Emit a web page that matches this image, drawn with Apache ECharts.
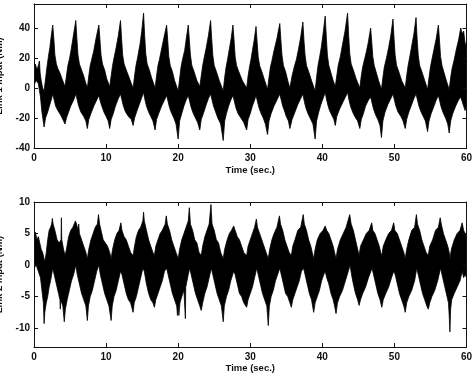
<!DOCTYPE html>
<html><head><meta charset="utf-8">
<script src="https://cdn.jsdelivr.net/npm/echarts@6/dist/echarts.min.js"></script>
<style>html,body{margin:0;padding:0;background:#fff}#c{width:474px;height:375px}</style>
</head><body><div id="c"></div>
<script>
// tick labels
const xTicks = [0, 10, 20, 30, 40, 50, 60];
const y1Ticks = [-40, -20, 0, 20, 40];
const y2Ticks = [-10, -5, 0, 5, 10];

// Link 1 input (Nm): upper and lower envelope of the dense signal, [time, value]
const link1Upper = [
[0,14],[0.2,16],[0.4,12],[0.6,15],[0.75,18],[0.85,10],[1.0,5],[1.2,0],[1.4,-2],
[1.6,6],[1.8,14],[2.0,21],[2.2,27],[2.4,35],[2.6,42],
[2.75,33],[2.9,22],[3.1,16],[3.3,13],[3.6,10],[3.9,6],[4.3,1],
[4.5,8],[4.7,15],[4.9,19],[5.1,24],[5.4,33],[5.8,45],
[5.95,33],[6.1,22],[6.3,16],[6.6,12],[6.9,8],[7.2,3],[7.4,0],
[7.6,8],[7.8,15],[8.0,19],[8.3,25],[8.6,33],[9.0,42],
[9.15,32],[9.3,22],[9.5,16],[9.8,12],[10.1,6],[10.5,1],
[10.7,8],[10.9,15],[11.1,20],[11.4,27],[11.7,35],[12.0,45],
[12.15,33],[12.3,22],[12.5,16],[12.8,12],[13.2,7],[13.5,3],[13.75,0],
[13.95,8],[14.15,15],[14.4,21],[14.7,29],[14.95,38],[15.2,50],
[15.35,35],[15.5,23],[15.7,16],[16.0,12],[16.3,7],[16.8,0],
[17.0,8],[17.2,15],[17.4,19],[17.7,26],[18.0,33],[18.4,42],
[18.55,32],[18.7,21],[18.9,15],[19.2,11],[19.5,5],[20.0,-2],
[20.2,6],[20.4,14],[20.6,19],[20.9,25],[21.1,32],[21.4,42],
[21.55,32],[21.7,22],[21.9,15],[22.2,11],[22.6,5],[23.0,1],
[23.2,8],[23.4,15],[23.6,20],[23.9,27],[24.2,35],[24.5,45],
[24.65,33],[24.8,22],[25.0,15],[25.3,11],[25.7,5],[26.25,-2],
[26.45,7],[26.65,14],[26.85,19],[27.1,26],[27.35,33],[27.6,42],
[27.75,32],[27.9,21],[28.1,15],[28.4,11],[28.9,5],[29.5,0],
[29.7,8],[29.9,14],[30.1,19],[30.3,25],[30.55,32],[30.8,41],
[30.95,31],[31.1,21],[31.3,15],[31.6,11],[32.0,5],[32.4,-1],
[32.6,7],[32.8,14],[33.0,18],[33.3,25],[33.7,33],[34.1,43],
[34.25,32],[34.4,22],[34.6,15],[34.9,11],[35.2,5],[35.5,0],
[35.8,8],[36.1,14],[36.4,19],[36.7,26],[37.0,34],[37.3,44],
[37.45,32],[37.6,22],[37.8,15],[38.1,11],[38.5,5],[39.0,-2],
[39.2,7],[39.4,15],[39.6,20],[39.85,27],[40.1,36],[40.4,48],
[40.55,34],[40.7,22],[40.9,15],[41.2,10],[41.5,5],[41.8,1],
[42.0,8],[42.2,15],[42.5,21],[42.8,29],[43.15,38],[43.5,50],
[43.65,35],[43.8,23],[44.0,16],[44.3,12],[44.7,6],[45.2,0],
[45.4,8],[45.6,14],[45.8,18],[46.1,24],[46.4,31],[46.7,40],
[46.85,31],[47.0,21],[47.2,15],[47.5,10],[47.8,5],[48.2,-1],
[48.4,7],[48.6,14],[48.9,20],[49.2,27],[49.5,35],[49.8,46],
[49.95,33],[50.1,22],[50.3,15],[50.6,11],[51.0,5],[51.5,0],
[51.7,8],[51.9,15],[52.1,20],[52.4,28],[52.7,36],[53.0,47],
[53.15,33],[53.3,22],[53.5,15],[53.8,11],[54.2,5],[54.6,-1],
[54.8,7],[55.0,14],[55.2,19],[55.5,26],[55.8,33],[56.1,42],
[56.25,32],[56.4,21],[56.6,15],[56.9,10],[57.2,5],[57.6,-1],
[57.8,7],[58.0,13],[58.3,19],[58.6,26],[58.9,32],[59.2,40],
[59.4,36],[59.6,38],[59.8,30],[60,28]
];
const link1Lower = [
[0,2],[0.3,5],[0.6,3],[0.9,-6],[1.1,-16],[1.4,-26],
[1.6,-20],[1.9,-16],[2.2,-11],[2.45,-7],[2.6,-4],
[2.8,-8],[3.0,-12],[3.3,-15],[3.7,-18],[4.0,-21],[4.3,-24],
[4.5,-20],[4.8,-16],[5.1,-12],[5.5,-8],[5.8,-4],
[6.0,-8],[6.2,-12],[6.5,-16],[6.9,-19],[7.2,-22],[7.4,-27],
[7.6,-21],[7.9,-17],[8.3,-12],[8.7,-8],[9.0,-5],
[9.2,-9],[9.4,-12],[9.7,-16],[10.0,-19],[10.3,-22],[10.5,-27],
[10.7,-21],[11.0,-17],[11.3,-12],[11.7,-7],[12.0,-4],
[12.2,-8],[12.4,-12],[12.7,-16],[13.1,-19],[13.5,-21],[13.75,-25],
[13.95,-20],[14.3,-15],[14.6,-11],[14.9,-7],[15.2,-3],
[15.4,-8],[15.6,-12],[15.9,-16],[16.2,-19],[16.5,-22],[16.8,-28],
[17.0,-21],[17.3,-17],[17.7,-12],[18.1,-8],[18.4,-5],
[18.6,-9],[18.8,-13],[19.1,-17],[19.4,-20],[19.7,-24],[20.0,-34],
[20.2,-22],[20.5,-17],[20.8,-12],[21.1,-8],[21.4,-5],
[21.6,-9],[21.8,-13],[22.1,-17],[22.4,-20],[22.7,-23],[23.0,-28],
[23.2,-21],[23.5,-17],[23.9,-11],[24.2,-7],[24.5,-4],
[24.7,-8],[24.9,-12],[25.2,-16],[25.5,-20],[25.9,-24],[26.25,-35],
[26.45,-22],[26.7,-17],[27.0,-12],[27.3,-8],[27.6,-5],
[27.8,-9],[28.0,-13],[28.3,-17],[28.7,-20],[29.1,-23],[29.5,-28],
[29.7,-21],[30.0,-17],[30.3,-12],[30.6,-8],[30.8,-5],
[31.0,-9],[31.2,-13],[31.5,-17],[31.8,-20],[32.1,-24],[32.4,-31],
[32.6,-22],[32.9,-17],[33.3,-12],[33.7,-8],[34.1,-4],
[34.3,-8],[34.5,-12],[34.8,-16],[35.0,-19],[35.3,-22],[35.5,-27],
[35.8,-21],[36.2,-16],[36.6,-11],[37.0,-7],[37.3,-4],
[37.5,-9],[37.7,-13],[38.0,-17],[38.3,-20],[38.7,-24],[39.0,-34],
[39.2,-22],[39.5,-16],[39.8,-11],[40.1,-7],[40.4,-3],
[40.6,-8],[40.8,-12],[41.0,-15],[41.3,-18],[41.6,-21],[41.8,-25],
[42.0,-19],[42.4,-14],[42.8,-10],[43.2,-6],[43.5,-3],
[43.7,-8],[43.9,-12],[44.2,-16],[44.5,-19],[44.9,-22],[45.2,-27],
[45.4,-21],[45.7,-17],[46.0,-12],[46.4,-8],[46.7,-6],
[46.9,-10],[47.1,-14],[47.4,-18],[47.7,-21],[48.0,-25],[48.2,-33],
[48.4,-22],[48.7,-16],[49.1,-11],[49.5,-7],[49.8,-4],
[50.0,-8],[50.2,-12],[50.5,-16],[50.9,-19],[51.2,-22],[51.5,-27],
[51.7,-21],[52.0,-16],[52.4,-11],[52.7,-7],[53.0,-4],
[53.2,-8],[53.4,-12],[53.7,-16],[54.0,-19],[54.3,-22],[54.6,-29],
[54.8,-22],[55.1,-17],[55.5,-12],[55.8,-8],[56.1,-5],
[56.3,-9],[56.5,-13],[56.8,-17],[57.1,-20],[57.4,-24],[57.6,-30],
[57.8,-22],[58.1,-17],[58.5,-12],[58.9,-8],[59.2,-6],
[59.4,-9],[59.6,-12],[59.8,-15],[60,-12]
];

// Link 2 input (Nm): upper and lower envelope, [time, value]
const link2Upper = [
[0,4],[0.2,5.2],[0.4,4],[0.6,4.5],[0.8,3.5],[1.0,2.5],[1.2,2],[1.4,1],[1.5,0.5],
[1.7,2],[1.9,4],[2.1,5.5],[2.3,6],[2.45,6.5],[2.55,7.4],[2.65,6.5],
[2.9,5.5],[3.2,4],[3.5,3.5],[3.75,4],[3.8,7.5],[3.85,4],[4.1,2.5],[4.3,1.5],
[4.5,2.5],[4.8,4.5],[5.1,5.5],[5.4,6],[5.75,7],[5.9,6.5],
[6.1,5.5],[6.2,6.5],[6.3,5],[6.6,4],[6.9,3],[7.2,2],[7.4,1],
[7.6,2.5],[7.9,4],[8.2,5],[8.5,6],[8.8,6.5],[8.95,8],[9.1,6.5],
[9.3,5.5],[9.6,4],[9.9,3.5],[10.2,3],[10.5,2],[10.7,1],
[10.9,2.5],[11.2,4],[11.5,5],[11.8,5.5],[12.05,6.7],[12.2,5.5],
[12.5,4.5],[12.8,4],[13.1,3],[13.4,2],[13.75,1.5],
[13.95,3],[14.2,4.5],[14.5,5.5],[14.8,6],[15.1,7],[15.2,8.4],[15.3,7],
[15.6,5.5],[15.9,4],[16.2,3],[16.5,2],[16.7,1.5],
[16.9,3],[17.2,4],[17.5,5],[17.8,5.5],[18.2,6.5],[18.35,7.8],[18.5,6.5],
[18.8,5.5],[19.1,4],[19.4,3],[19.7,2],[20.0,1],
[20.2,2.5],[20.5,4],[20.8,5],[21.1,6],[21.4,7],[21.55,9.1],[21.7,6.5],
[22.0,5.5],[22.3,4],[22.6,3.5],[22.9,2],[23.2,1.5],
[23.4,3],[23.7,4.5],[24.0,5.5],[24.3,6.5],[24.55,9.6],[24.7,6.5],
[25.0,5.5],[25.3,4],[25.6,3.5],[25.9,2],[26.25,1],
[26.45,2.5],[26.8,4],[27.1,5],[27.4,5.5],[27.7,6.2],[27.9,5.5],
[28.2,4.5],[28.5,4],[28.8,3],[29.1,2],[29.5,1.5],
[29.7,3],[30.0,4],[30.3,5],[30.6,6],[30.85,7.3],[31.0,6],
[31.3,5],[31.6,4],[31.9,3],[32.2,2],[32.5,1],
[32.7,2.5],[33.0,4],[33.3,5],[33.7,6],[34.05,7.8],[34.2,6.5],
[34.5,5.5],[34.8,4],[35.1,3],[35.4,2],[35.7,1.5],
[35.9,3],[36.2,4],[36.6,5.5],[37.0,6],[37.35,8],[37.5,6.5],
[37.8,5.5],[38.1,4],[38.4,3],[38.6,2],[38.8,1],
[39.0,2.5],[39.3,4],[39.7,5],[40.1,5.5],[40.4,6.2],[40.6,5.5],
[40.9,5],[41.2,4],[41.5,3],[41.7,2],[41.9,1],
[42.1,2.5],[42.5,4],[42.9,5],[43.3,6],[43.8,8],[44.0,6.5],
[44.3,5.5],[44.6,4],[44.9,2.5],[45.1,1.5],
[45.3,3],[45.7,4],[46.1,5],[46.5,5.5],[46.85,6.7],[47.0,5.5],
[47.3,5],[47.6,4],[47.9,3],[48.1,2],[48.25,1.5],
[48.45,3],[48.8,4],[49.2,5],[49.6,5.5],[49.9,6.7],[50.05,5.5],
[50.4,5],[50.7,4],[51.0,3],[51.3,2],[51.5,1],
[51.7,2.5],[52.0,4],[52.4,5.5],[52.8,6],[53.05,8],[53.2,6.5],
[53.5,5.5],[53.8,4],[54.1,3],[54.4,2],[54.7,1.5],
[54.9,3],[55.3,4],[55.7,5.5],[56.1,6],[56.35,7.5],[56.5,6.5],
[56.8,5],[57.1,4],[57.4,3],[57.6,2],[57.7,1],
[57.9,2.5],[58.3,4],[58.7,5],[59.1,5.5],[59.4,6.7],[59.6,5.5],[59.8,5],[60,4.5]
];
const link2Lower = [
[0,-0.5],[0.3,0],[0.6,-1],[0.9,-2],[1.1,-4],[1.3,-6],[1.4,-9.3],[1.5,-7.5],[1.7,-6],
[1.9,-5],[2.1,-3.5],[2.3,-2.5],[2.6,-0.5],[2.8,-1.5],
[3.1,-3],[3.4,-4.5],[3.6,-5.5],[3.65,-7],[3.7,-5.5],[4.0,-6.5],[4.2,-9],[4.35,-7],
[4.6,-5.5],[4.9,-4],[5.2,-2.5],[5.5,-1.5],[5.8,0],[6.0,-1.5],
[6.3,-3],[6.6,-4.5],[6.9,-5.5],[7.2,-6.5],[7.4,-8.8],[7.55,-6.5],
[7.8,-5],[8.1,-4],[8.4,-2.5],[8.7,-1],[9.0,0],[9.2,-1.5],
[9.5,-3],[9.8,-4.5],[10.1,-5.5],[10.4,-6.5],[10.7,-8.8],[10.85,-6.5],
[11.1,-5],[11.4,-4],[11.7,-2.5],[12.0,-1],[12.2,-1.5],
[12.5,-3],[12.8,-4.5],[13.1,-5.5],[13.4,-6],[13.75,-7.5],[13.9,-6],
[14.2,-5],[14.5,-3.5],[14.8,-2],[15.1,-0.5],[15.3,-1],
[15.6,-3],[15.9,-4.5],[16.2,-5.5],[16.5,-6],[16.7,-6.7],[16.9,-5.5],
[17.2,-4.5],[17.5,-3.5],[17.8,-2.5],[18.1,-1],[18.4,-0.5],[18.6,-1.5],
[18.9,-3],[19.2,-4.5],[19.5,-5.5],[19.8,-6.5],[19.9,-8],[20.0,-6.5],[20.1,-8],[20.25,-6],
[20.5,-5],[20.8,-4],[21.0,-8.5],[21.05,-3.5],[21.4,-1.5],[21.6,-0.5],[21.8,-1.5],
[22.1,-3],[22.4,-4.5],[22.7,-5.5],[23.0,-6.5],[23.2,-7.2],[23.4,-6],
[23.7,-4.5],[24.0,-3.5],[24.3,-2],[24.6,-0.5],[24.8,-1.5],
[25.1,-3],[25.4,-4.5],[25.7,-5.5],[26.0,-6.5],[26.25,-9],[26.4,-6.5],
[26.7,-5],[27.0,-4],[27.3,-2.5],[27.7,-1],[27.9,-1.5],
[28.2,-3],[28.5,-4.5],[28.8,-5],[29.1,-6],[29.5,-6.7],[29.7,-5.5],
[30.0,-4.5],[30.3,-3.5],[30.6,-2],[30.9,-0.5],[31.1,-1.5],
[31.4,-3],[31.7,-4.5],[32.0,-5.5],[32.3,-6.5],[32.5,-9.6],[32.65,-6.5],
[32.9,-5],[33.2,-4],[33.5,-2.5],[33.8,-1.5],[34.1,-0.5],[34.3,-1.5],
[34.6,-3],[34.9,-4.5],[35.2,-5],[35.5,-6],[35.7,-6.7],[35.9,-5.5],
[36.2,-4.5],[36.5,-3.5],[36.8,-2.5],[37.1,-1],[37.4,-0.5],[37.6,-1.5],
[37.9,-3],[38.2,-4.5],[38.5,-5.5],[38.8,-7.5],[39.0,-6],
[39.3,-5],[39.6,-4],[39.9,-2.5],[40.2,-1.5],[40.4,-1],[40.6,-2],
[40.9,-3],[41.2,-4.5],[41.5,-5.5],[41.7,-6.5],[41.9,-7.7],[42.1,-6],
[42.4,-5],[42.8,-4],[43.2,-2.5],[43.6,-1],[43.85,0],[44.05,-1.5],
[44.3,-3],[44.6,-4.5],[44.9,-5.5],[45.1,-6.4],[45.3,-5.5],
[45.6,-4.5],[46.0,-3.5],[46.4,-2],[46.9,-0.5],[47.1,-1.5],
[47.4,-3],[47.7,-4.5],[48.0,-5.5],[48.25,-6.7],[48.45,-5.5],
[48.8,-4.5],[49.2,-3.5],[49.6,-2],[49.9,-1],[50.1,-1.5],
[50.4,-3],[50.7,-4.5],[51.0,-5.5],[51.3,-6.5],[51.5,-7.5],[51.7,-6],
[52.0,-5],[52.4,-4],[52.8,-2.5],[53.1,-0.5],[53.3,-1.5],
[53.6,-3],[53.9,-4.5],[54.2,-5.5],[54.5,-6.5],[54.7,-7],[54.9,-6],
[55.2,-5],[55.6,-4],[56.0,-2.5],[56.4,-0.5],[56.6,-1.5],
[56.9,-3],[57.2,-4.5],[57.5,-6],[57.6,-8],[57.7,-10.6],[57.8,-7],[57.95,-5.5],
[58.3,-4.5],[58.7,-3.5],[59.1,-2.5],[59.4,-1],[59.6,-2],[59.8,-1.5],[60,-2]
];

const FONT = 'Liberation Sans';
const INK = '#111';
const lbl = {color: INK, fontFamily: FONT, fontSize: 10, fontWeight: 'bold'};

function xAxisPair(gi) {
  const base = {
    gridIndex: gi, type: 'value', min: 0, max: 60, interval: 10,
    axisLine: {show: true, onZero: false, lineStyle: {color: INK, width: 1}},
    axisTick: {show: true, inside: true, length: 4, lineStyle: {color: INK}, customValues: xTicks},
    splitLine: {show: false}, z: 5
  };
  return [
    Object.assign({}, base, {
      position: 'bottom',
      axisLabel: Object.assign({margin: 5, customValues: xTicks}, lbl),
      name: 'Time (sec.)', nameLocation: 'middle', nameGap: gi === 0 ? 17 : 14,
      nameTextStyle: {color: INK, fontFamily: FONT, fontSize: 9.5, fontWeight: 'bold'}
    }),
    Object.assign({}, base, {position: 'top', axisLabel: {show: false}})
  ];
}
function yAxisPair(gi, min, max, ticks, name) {
  const base = {
    gridIndex: gi, type: 'value', min: min, max: max,
    axisLine: {show: true, onZero: false, lineStyle: {color: INK, width: 1}},
    axisTick: {show: true, inside: true, length: 4, lineStyle: {color: INK}, customValues: ticks},
    splitLine: {show: false}, z: 5
  };
  return [
    Object.assign({}, base, {
      position: 'left',
      axisLabel: Object.assign({margin: 4, customValues: ticks}, lbl),
      name: name, nameLocation: 'middle', nameGap: 21, nameRotate: 90,
      nameTextStyle: {color: INK, fontFamily: FONT, fontSize: 9.5, fontWeight: 'bold'}
    }),
    Object.assign({}, base, {position: 'right', axisLabel: {show: false}})
  ];
}

function bandSeries(upper, lower, xi, yi) {
  return {
    type: 'custom', xAxisIndex: xi, yAxisIndex: yi, clip: true, silent: true,
    data: [0],
    renderItem: function (params, api) {
      const pts = upper.map(p => api.coord(p))
        .concat(lower.slice().reverse().map(p => api.coord(p)));
      return {type: 'polygon', shape: {points: pts},
        style: {fill: '#000', stroke: '#000', lineWidth: 0.8}};
    }
  };
}

const chart = echarts.init(document.getElementById('c'), null, {renderer: 'canvas'});
chart.setOption({
  animation: false,
  backgroundColor: '#fff',
  grid: [
    {left: 34, top: 4, width: 432.5, height: 144, containLabel: false, outerBoundsMode: 'none'},
    {left: 34, top: 202, width: 432.5, height: 145, containLabel: false, outerBoundsMode: 'none'}
  ],
  xAxis: xAxisPair(0).concat(xAxisPair(1)),
  yAxis: yAxisPair(0, -40, 56, y1Ticks, 'Link 1 input (Nm)')
    .concat(yAxisPair(1, -13, 10, y2Ticks, 'Link 2 input (Nm)')),
  series: [
    bandSeries(link1Upper, link1Lower, 0, 0),
    bandSeries(link2Upper, link2Lower, 2, 2)
  ]
});
</script>
</body></html>
